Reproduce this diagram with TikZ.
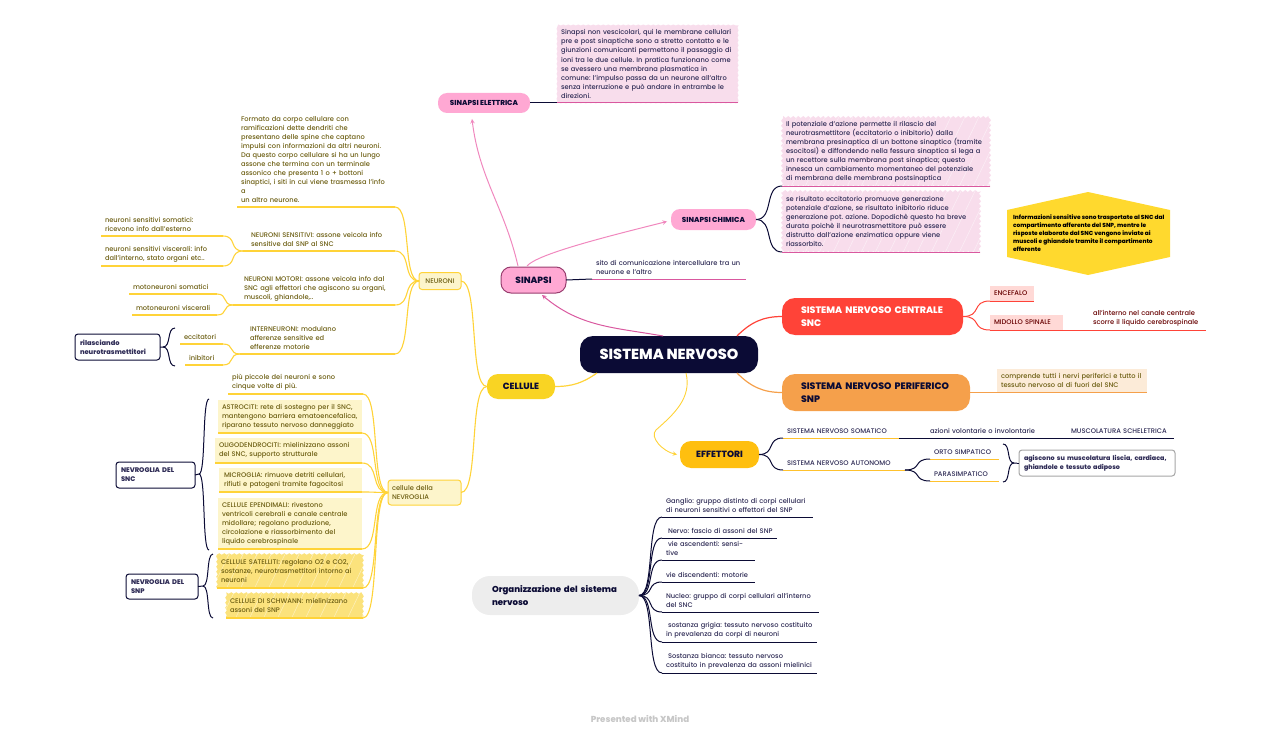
\documentclass[tikz,border=0pt]{standalone}
\usepackage{fontspec}
\setmainfont{Poppins}[UprightFont=* Medium]
\usetikzlibrary{calc,decorations.pathmorphing}
\definecolor{navy}{HTML}{0B0B35}
\definecolor{inkdark}{HTML}{2E2B55}
\definecolor{olive}{HTML}{6C5E12}
\definecolor{yline}{HTML}{FFD338}
\definecolor{ypale}{HTML}{FDF5CB}
\definecolor{ysketch}{HTML}{FBE27C}
\definecolor{yhex}{HTML}{FFD92E}
\definecolor{ycell}{HTML}{F9D423}
\definecolor{yeff}{HTML}{FFBF0F}
\definecolor{pinktopic}{HTML}{FFA8D3}
\definecolor{pinkline}{HTML}{D9589F}
\definecolor{pinkpale}{HTML}{F8DDEC}
\definecolor{redtopic}{HTML}{FF4338}
\definecolor{redpale}{HTML}{FFD9D6}
\definecolor{orangetopic}{HTML}{F5A04B}
\definecolor{orangepale}{HTML}{FCEBD8}
\tikzset{
  txt/.style={font=\fontsize{6.7}{9.05}\selectfont,align=left,inner sep=0pt,outer sep=0pt,execute at begin node=\frenchspacing},
  leaf/.style={txt,anchor=south west,inner xsep=4pt,inner ysep=4pt,text=olive},
  darkleaf/.style={leaf,text=inkdark},
  pad/.style={inner ysep=1.6pt},
  topic/.style={anchor=north west,inner sep=0pt,outer sep=0pt,align=center,rounded corners=#1},
  topic/.default=10pt,
  note/.style={leaf,pad,fill=ypale,text=olive},
  boxed/.style={txt,anchor=north west,draw=navy,fill=white,line width=1pt,rounded corners=3pt,inner xsep=5pt,font=\fontsize{6.7}{9.05}\selectfont\bfseries,text=inkdark},
  scribble/.style={decorate,decoration={zigzag,segment length=5pt,amplitude=#1}},
  hatch/.style={path picture={\foreach \k in {-60,-46,...,260}
      \draw[white,line width=.5pt,opacity=.5] ([xshift=\k pt]path picture bounding box.south west) -- ++(34,-70);}},
  sbend/.style={to path={.. controls ($(\tikztostart)!0.7!(\tikztotarget|-\tikztostart)$) and ($(\tikztotarget)!0.7!(\tikztostart|-\tikztotarget)$) .. (\tikztotarget)}},
  ylw/.style={yline,line width=1.1pt},
  nvy/.style={navy,line width=1pt},
  pnk/.style={pinkline,line width=1pt},
}
\begin{document}
\begin{tikzpicture}[x=1pt,y=-1pt]
  \useasboundingbox (0,0) rectangle (1280,733);

  % centre and main topics
  \node[topic=13pt,fill=navy,text=white,minimum width=178pt,minimum height=37pt,font=\fontsize{14.6}{16}\selectfont\bfseries] (central) at (580,336) {SISTEMA NERVOSO};
  \node[topic=10pt,fill=pinktopic,draw=pinkline!70!black,line width=1pt,minimum width=65pt,minimum height=26pt,text=navy,font=\fontsize{9}{11}\selectfont\bfseries] (sinapsi) at (501,267) {SINAPSI};
  \node[topic=9pt,fill=pinktopic,minimum width=92pt,minimum height=20pt,text=navy,font=\fontsize{7.2}{9}\selectfont\bfseries] (elettrica) at (438,93) {SINAPSI ELETTRICA};
  \node[topic=9pt,fill=pinktopic,minimum width=85pt,minimum height=21pt,text=navy,font=\fontsize{7.2}{9}\selectfont\bfseries] (chimica) at (671,209) {SINAPSI CHIMICA};
  \node[topic=13pt,fill=redtopic,text=white,minimum height=37pt,inner xsep=19pt,text width=143pt,align=left,font=\fontsize{9.4}{13}\selectfont\bfseries] (snc) at (782,298) {SISTEMA NERVOSO CENTRALE\\SNC};
  \node[topic=13pt,fill=orangetopic,text=navy,minimum height=37pt,inner xsep=19pt,text width=150pt,align=left,font=\fontsize{9.4}{13}\selectfont\bfseries] (snp) at (782,374) {SISTEMA NERVOSO PERIFERICO\\SNP};
  \node[topic=11pt,fill=yeff,text=navy,minimum width=79pt,minimum height=27pt,font=\fontsize{9}{11}\selectfont\bfseries] (effettori) at (680,441) {EFFETTORI};
  \node[topic=11pt,fill=ycell,text=navy,minimum width=68pt,minimum height=25pt,font=\fontsize{9}{11}\selectfont\bfseries] (cellule) at (487,374) {CELLULE};
  \node[topic=18pt,fill=black!7,text=navy,minimum height=39pt,inner xsep=20pt,text width=127pt,align=left,font=\fontsize{8.6}{12.5}\selectfont\bfseries] (organ) at (472,576) {Organizzazione del sistema\\nervoso};

  % sinapsi
  \node[darkleaf,text width=146pt] (sito) at (592,279) {sito di comunicazione intercellulare tra un\\neurone e l'altro};
  \node[darkleaf,pad,fill=pinkpale,minimum height=78pt,text width=173pt,scribble=.5pt] (nonves) at (557,103) {Sinapsi non vescicolari, qui le membrane cellulari\\pre e post sinaptiche sono a stretto contatto e le\\giunzioni comunicanti permettono il passaggio di\\ioni tra le due cellule. In pratica funzionano come\\se avessero una membrana plasmatica in\\comune: l'impulso passa da un neurone all'altro\\senza interruzione e può andare in entrambe le\\direzioni.};
  \node[darkleaf,pad,fill=pinkpale,minimum height=69pt,text width=200pt,scribble=1.2pt,hatch] (potenziale) at (782,186) {Il potenziale d'azione permette il rilascio del\\neurotrasmettitore (eccitatorio o inibitorio) dalla\\membrana presinaptica di un bottone sinaptico (tramite\\esocitosi) e diffondendo nella fessura sinaptica si lega a\\un recettore sulla membrana post sinaptica; questo\\innesca un cambiamento momentaneo del potenziale\\di membrana delle membrana postsinaptica};
  \node[darkleaf,pad,fill=pinkpale,minimum height=61pt,text width=190pt,scribble=1.2pt,hatch] (risultato) at (782,252) {se risultato eccitatorio promuove generazione\\potenziale d'azione, se risultato inibitorio riduce\\generazione pot. azione. Dopodichè questo ha breve\\durata poichè il neurotrasmettitore può essere\\distrutto dall'azione enzimatica oppure viene\\riassorbito.};
  \fill[yhex] (1088,192) -- (1170,210) -- (1170,257) -- (1088,275) -- (1007,257) -- (1007,210) -- cycle;
  \node[txt,anchor=west,text=black,font=\fontsize{5.85}{8}\selectfont\bfseries] (info) at (1013,233.5) {Informazioni sensitive sono trasportate al SNC dal\\compartimento afferente del SNP, mentre le\\risposte elaborate dal SNC vengono inviate ai\\muscoli e ghiandole tramite il compartimento\\efferente};

  % snc, snp
  \node[leaf,pad,fill=redpale,text=red!40!black,minimum height=15pt,text width=36pt] (encefalo) at (990,301) {ENCEFALO};
  \node[leaf,pad,fill=redpale,text=red!40!black,minimum height=15pt,text width=65pt] (midollo) at (990,330) {MIDOLLO SPINALE};
  \node[leaf,text=red!40!black,text width=127pt] (canale) at (1071,330) {\hspace*{18pt}all'interno nel canale centrale\\\hspace*{18pt}scorre il liquido cerebrospinale};
  \node[leaf,pad,fill=orangepale,text=olive,minimum height=23pt,text width=142pt] (periferici) at (997,392) {comprende tutti i nervi periferici e tutto il\\tessuto nervoso al di fuori del SNC};

  % effettori
  \node[darkleaf,text width=108pt] (somatico) at (783,438) {SISTEMA NERVOSO SOMATICO};
  \node[darkleaf,text width=106pt] (azioni) at (926,438) {azioni volontarie o involontarie};
  \node[darkleaf,text width=99pt] (muscolatura) at (1067,438) {MUSCOLATURA SCHELETRICA};
  \node[darkleaf,text width=114pt] (autonomo) at (783,470) {SISTEMA NERVOSO AUTONOMO};
  \node[darkleaf,text width=61pt] (orto) at (930,459) {ORTO SIMPATICO};
  \node[darkleaf,text width=61pt] (para) at (930,481) {PARASIMPATICO};
  \node[boxed,draw=black!35,minimum height=26pt,text width=146pt,font=\fontsize{6.4}{9.05}\selectfont\bfseries] (agiscono) at (1019,450) {agiscono su muscolatura liscia, cardiaca,\\ghiandole e tessuto adiposo};
  \coordinate (ortotop) at (1003,444);
  \coordinate (parabot) at (1003,482);
  \coordinate (bracetip) at (1017,463);

  % organizzazione
  \node[darkleaf,text width=143pt] (ganglio) at (662,517) {Ganglio: gruppo distinto di corpi cellulari\\di neuroni sensitivi o effettori del SNP};
  \node[darkleaf,text width=107pt] (nervo) at (662,538) {\hspace*{2pt}Nervo: fascio di assoni del SNP};
  \node[darkleaf,text width=85pt] (ascend) at (662,560) {\hspace*{2pt}vie ascendenti: sensitive};
  \node[darkleaf,text width=85pt] (discend) at (662,582) {vie discendenti: motorie};
  \node[darkleaf,text width=149pt] (nucleo) at (662,612) {Nucleo: gruppo di corpi cellulari all'interno\\del SNC};
  \node[darkleaf,text width=147pt] (grigia) at (662,642) {\hspace*{2pt}sostanza grigia: tessuto nervoso costituito\\in prevalenza da corpi di neuroni};
  \node[darkleaf,text width=147pt] (bianca) at (662,673) {\hspace*{2pt}Sostanza bianca: tessuto nervoso\\costituito in prevalenza da assoni mielinici};

  % neuroni
  \node[topic=3pt,draw=yline,line width=1pt,fill=ypale,minimum width=42pt,minimum height=17pt,text=olive,font=\fontsize{6.7}{9}\selectfont] (neuroni) at (419,272.5) {NEURONI};
  \node[leaf,text width=150pt] (formato) at (237,207) {Formato da corpo cellulare con\\ramificazioni dette dendriti che\\presentano delle spine che captano\\impulsi con informazioni da altri neuroni.\\Da questo corpo cellulare si ha un lungo\\assone che termina con un terminale\\assonico che presenta 1 o + bottoni\\sinaptici, i siti in cui viene trasmessa l'info a\\un altro neurone.};
  \node[leaf,text width=144pt] (sensitivi) at (243,251) {\hspace*{4pt}NEURONI SENSITIVI: assone veicola info\\\hspace*{4pt}sensitive dal SNP al SNC};
  \node[leaf,text width=154pt] (motori) at (233,305) {\hspace*{7pt}NEURONI MOTORI: assone veicola info dal\\\hspace*{7pt}SNC agli effettori che agiscono su organi,\\\hspace*{7pt}muscoli, ghiandole,..};
  \node[leaf,text width=147pt] (inter) at (240,354) {\hspace*{6pt}INTERNEURONI: modulano\\\hspace*{6pt}afferenze sensitive ed\\\hspace*{6pt}efferenze motorie};
  \node[leaf,text width=114pt] (sensom) at (101,236) {neuroni sensitivi somatici:\\ricevono info dall'esterno};
  \node[leaf,text width=114pt] (sensvis) at (101,266) {neuroni sensitivi viscerali: info\\dall'interno, stato organi etc..};
  \node[leaf,text width=80pt] (motsom) at (129,294) {motoneuroni somatici};
  \node[leaf,text width=77pt] (motvis) at (132,315) {motoneuroni viscerali};
  \node[leaf,text width=35pt] (eccit) at (180,344) {eccitatori};
  \node[leaf,text width=30pt] (inib) at (185,365) {inibitori};
  \node[boxed,minimum height=26pt,text width=75pt] (rilascio) at (75,334) {rilasciando\\neurotrasmettitori};
  \coordinate (ecctop) at (175,328);
  \coordinate (inibot) at (175,366);
  \coordinate (rilatip) at (163,347);

  % nevroglia
  \node[topic=3pt,draw=yline,line width=1pt,fill=ypale,minimum height=25pt,inner xsep=4pt,text width=65pt,align=left,text=olive,font=\fontsize{6.7}{9}\selectfont] (nevroglia) at (388,480) {cellule della\\NEVROGLIA};
  \node[leaf,text width=127pt] (piccole) at (228,394) {più piccole dei neuroni e sono\\cinque volte di più.};
  \node[note,minimum height=33pt,text width=136pt] (astro) at (218,433) {ASTROCITI: rete di sostegno per il SNC,\\mantengono barriera ematoencefalica,\\riparano tessuto nervoso danneggiato};
  \node[note,minimum height=25pt,text width=139pt] (oligo) at (215,463) {OLIGODENDROCITI: mielinizzano assoni\\del SNC, supporto strutturale};
  \node[note,minimum height=24pt,text width=135pt] (micro) at (219,492) {\hspace*{1pt}MICROGLIA: rimuove detriti cellulari,\\\hspace*{1pt}rifiuti e patogeni tramite fagocitosi};
  \node[note,minimum height=51pt,text width=136pt] (ependim) at (218,549) {CELLULE EPENDIMALI: rivestono\\ventricoli cerebrali e canale centrale\\midollare; regolano produzione,\\circolazione e riassorbimento del\\liquido cerebrospinale};
  \node[note,fill=ysketch,minimum height=34pt,text width=138pt,scribble=.8pt,hatch] (satelliti) at (217,588) {CELLULE SATELLITI: regolano O2 e CO2,\\sostanze, neurotrasmettitori intorno ai\\neuroni};
  \node[note,fill=ysketch,minimum height=25pt,text width=129pt,scribble=.8pt,hatch] (schwann) at (226,618) {CELLULE DI SCHWANN: mielinizzano\\assoni del SNP};
  \node[boxed,minimum height=26pt,text width=69pt] (gliasnc) at (116,462) {NEVROGLIA DEL\\SNC};
  \node[boxed,minimum height=25pt,text width=62pt] (gliasnp) at (126,574) {NEVROGLIA DEL\\SNP};
  \coordinate (snctop) at (209,399);
  \coordinate (sncbot) at (209,550);
  \coordinate (snctip) at (199,474);
  \coordinate (snptop) at (213,554);
  \coordinate (snpbot) at (213,618);
  \coordinate (snptip) at (203,586);

  \node[txt,text=black!22,font=\fontsize{8.7}{10}\selectfont\bfseries] (xmind) at (640,719) {Presented with XMind};

  % relationships from the centre
  \draw[pinkline,line width=1pt,-stealth] ([xshift=83pt]central.north west) to[out=170,in=-40] ([xshift=41pt,yshift=-2pt]sinapsi.south west);
  \draw[pinktopic!60!pinkline,line width=1pt,-stealth] ([xshift=17pt,yshift=1pt]sinapsi.north west) to[out=103,in=-83] ([xshift=34pt,yshift=-6pt]elettrica.south west);
  \draw[pinktopic!60!pinkline,line width=1pt,-stealth] ([xshift=26pt,yshift=1pt]sinapsi.north west) .. controls +(10,-12) and +(-60,15) .. ([xshift=-4pt,yshift=-2pt]chimica.west);
  \coordinate (effbend) at (656,430);
  \draw[ylw,line width=.9pt,-stealth] ([xshift=106pt]central.south west) .. controls +(6,25) and +(18,-16) .. (effbend) .. controls +(-7,7) and +(-14,-3) .. ([xshift=-3pt]effettori.west);
  \draw[redtopic,line width=1.2pt] ([xshift=-21pt]central.north east) to[out=45,in=180] (snc.west);
  \draw[orangetopic,line width=1.2pt] ([xshift=-21pt]central.south east) to[out=-45,in=180] (snp.west);
  \draw[ylw,line width=1.2pt] ([xshift=17pt]central.south west) to[out=-145,in=0] (cellule.east);

  % underlines and branches
  \foreach \n in {sito,nonves,potenziale,risultato} \draw[pnk] (\n.south west) -- (\n.south east);
  \draw[nvy] (sinapsi.east) -- (sito.south west);
  \draw[nvy] (elettrica.east |- nonves.south west) -- (nonves.south west);
  \draw[nvy] (chimica.east) to[sbend] (potenziale.south west);
  \draw[nvy] (chimica.east) to[sbend] (risultato.south west);

  \foreach \n in {encefalo,midollo,canale} \draw[redtopic,line width=1pt] (\n.south west) -- (\n.south east);
  \draw[redtopic,line width=1pt] (midollo.south east) -- (canale.south west);
  \draw[redtopic,line width=1pt] (snc.east) to[sbend] (encefalo.south west);
  \draw[redtopic,line width=1pt] (snc.east) to[sbend] (midollo.south west);
  \draw[orangetopic,line width=1pt] (snp.east |- periferici.south west) -- (periferici.south east);

  \foreach \n in {somatico,autonomo,orto,para} \draw[yline!80!orange,line width=1pt] (\n.south west) -- (\n.south east);
  \draw[nvy] (somatico.south east) -- (muscolatura.south east);
  \draw[nvy] (effettori.east) to[sbend] (somatico.south west);
  \draw[nvy] (effettori.east) to[sbend] (autonomo.south west);
  \draw[nvy] (autonomo.south east) to[sbend] (orto.south west);
  \draw[nvy] (autonomo.south east) to[sbend] (para.south west);
  \draw[nvy] (bracetip) -- ([xshift=-3pt]bracetip) to[sbend] (ortotop);
  \draw[nvy] ([xshift=-3pt]bracetip) to[sbend] (parabot);

  \foreach \n in {ganglio,nervo,ascend,discend,nucleo,grigia,bianca} {
    \draw[nvy] (\n.south west) -- (\n.south east);
    \draw[nvy] (organ.east) to[sbend] (\n.south west);
  }

  \foreach \n in {neuroni,nevroglia} \draw[ylw] (cellule.west) to[sbend] (\n.east);
  \foreach \n in {formato,sensitivi,motori,inter} {
    \draw[ylw] (\n.south west) -- (\n.south east);
    \draw[ylw] (neuroni.west) to[sbend] (\n.south east);
  }
  \foreach \n in {sensom,sensvis} {
    \draw[ylw] (\n.south west) -- (\n.south east);
    \draw[ylw] (sensitivi.south west) to[sbend] (\n.south east);
  }
  \foreach \n in {motsom,motvis} {
    \draw[ylw] (\n.south west) -- (\n.south east);
    \draw[ylw] (motori.south west) to[sbend] (\n.south east);
  }
  \foreach \n in {eccit,inib} {
    \draw[ylw] (\n.south west) -- (\n.south east);
    \draw[ylw] (inter.south west) to[sbend] (\n.south east);
  }
  \foreach \n in {piccole,astro,oligo,micro,ependim,satelliti,schwann} {
    \draw[ylw] (\n.south west) -- (\n.south east);
    \draw[ylw] (nevroglia.west) to[sbend] (\n.south east);
  }

  % summary braces
  \draw[nvy] (rilascio.east) -- (rilatip) to[sbend] (ecctop);
  \draw[nvy] (rilatip) to[sbend] (inibot);
  \draw[nvy] (gliasnc.east) -- (snctip) to[sbend] (snctop);
  \draw[nvy] (snctip) to[sbend] (sncbot);
  \draw[nvy] (gliasnp.east) -- (snptip) to[sbend] (snptop);
  \draw[nvy] (snptip) to[sbend] (snpbot);
  \draw[nvy] (agiscono.west) -- (bracetip);
\end{tikzpicture}
\end{document}
